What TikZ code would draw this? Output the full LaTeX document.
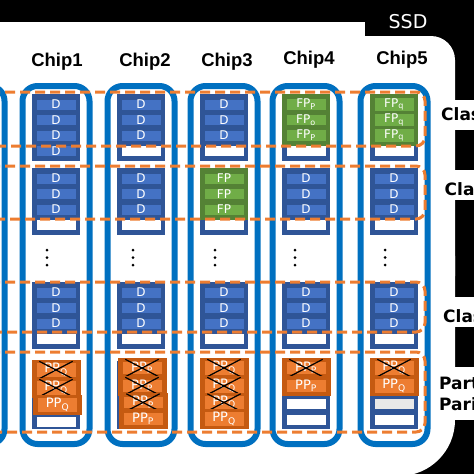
\documentclass[tikz,border=0pt]{standalone}
\usepackage{fontspec}
\setmainfont{DejaVu Sans}
\newfontfamily\chipfont{Liberation Sans}
\definecolor{chipblue}{RGB}{0,112,192}
\definecolor{blkblue}{RGB}{47,85,151}
\definecolor{rowblue}{RGB}{68,114,196}
\definecolor{fpdark}{RGB}{84,130,53}
\definecolor{fplight}{RGB}{112,173,71}
\definecolor{ppdark}{RGB}{197,90,17}
\definecolor{pplight}{RGB}{237,125,49}
\definecolor{dashorange}{RGB}{237,125,49}
\definecolor{rowgray}{RGB}{232,232,232}
\begin{document}
\begin{tikzpicture}[x=1pt, y=-1pt]
    % Define styles
    \tikzset{
        chip/.style={draw=chipblue, line width=6pt, rounded corners=15pt},
        blk/.style={fill=blkblue, minimum width=48pt, minimum height=67pt, inner sep=0pt},
        fpblk/.style={fill=fpdark, minimum width=48pt, minimum height=52pt, inner sep=0pt},
        cell/.style={minimum width=39pt, minimum height=10pt, inner sep=0pt,
            text=white, font=\fontsize{12}{12}\selectfont},
        drow/.style={cell, fill=rowblue},
        erow/.style={cell, fill=white},
        grayrow/.style={cell, fill=rowgray},
        fprow/.style={cell, fill=fplight},
        page/.style={fill=ppdark, minimum width=49pt, minimum height=20pt, inner sep=0pt},
        pprow/.style={cell, fill=pplight, minimum height=11pt, font=\fontsize{13}{13}\selectfont},
        cross/.style={black, line width=1.2pt},
        dot/.style={circle, fill=black, inner sep=0pt, minimum size=3pt},
        class/.style={draw=dashorange, line width=3pt, dash pattern=on 10pt off 5pt,
            rounded corners=9pt},
        side/.style={font=\bfseries\fontsize{17}{17}\selectfont, anchor=base west, inner sep=0pt}
    }

    % Frame
    \useasboundingbox (0,0) rectangle (474,474);
    \fill[black] (0,0) rectangle (474,474);
    \fill[white] (-5,22) rectangle (365,40);
    \fill[white, rounded corners=24pt] (-60,36) rectangle (455,300);
    \fill[white, rounded corners=56pt] (-60,200) rectangle (455,476);
    \foreach \ya/\yb in {100/130, 170/200, 297/327, 367/420}
        \fill[white] (438,\ya) rectangle (480,\yb);

    % SSD tab
    \node[text=white, font=\fontsize{19}{19}\selectfont, anchor=base] (ssd) at (408,28) {SSD};

    % Chips
    \foreach \c/\cx in {0/-29, 1/56, 2/141, 3/224, 4/306, 5/394}
        \draw[chip] (\cx-33.5,86) rectangle (\cx+33.5,444);
    \foreach \c/\cx/\ty in {1/57/66, 2/145/66, 3/227/66, 4/309/64.5, 5/402/64.5}
        \node[font=\chipfont\bfseries\fontsize{18.5}{18.5}\selectfont, anchor=base] (t\c) at (\cx,\ty) {Chip\c};

    % First class stripe
    \foreach \c/\cx in {1/56, 2/141, 3/224, 4/306, 5/394}
        \node[blk] (a\c) at (\cx,127.5) {};
    \foreach \c/\cx in {2/141, 3/224, 4/306, 5/394}
        \node[erow] (a\c r4) at (\cx,151) {};
    \foreach \c/\cx in {1/56, 2/141, 3/224}
        \foreach \r/\ry in {1/104.5, 2/120, 3/135.5}
            \node[drow] (a\c r\r) at (\cx,\ry) {D};
    \node[drow] (a1r4) at (56,151) {D};
    \node[fpblk] (a4g) at (306,120) {};
    \node[fprow] (a4r1) at (306,104.5) {FP\textsubscript{P}};
    \node[fprow] (a4r2) at (306,120) {FP\textsubscript{o}};
    \node[fprow] (a4r3) at (306,135.5) {FP\textsubscript{P}};
    \node[fpblk] (a5g) at (394,120) {};
    \foreach \r/\ry in {1/104.5, 2/120, 3/135.5}
        \node[fprow] (a5r\r) at (394,\ry) {FP\textsubscript{q}};

    % Second class stripe
    \foreach \c/\cx in {1/56, 2/141, 3/224, 4/306, 5/394}{
        \node[blk] (b\c) at (\cx,201.5) {};
        \node[erow] (b\c r4) at (\cx,225) {};
    }
    \foreach \c/\cx in {1/56, 2/141, 4/306, 5/394}
        \foreach \r/\ry in {1/178.5, 2/194, 3/209.5}
            \node[drow] (b\c r\r) at (\cx,\ry) {D};
    \node[fpblk] (b3g) at (224,194) {};
    \foreach \r/\ry in {1/178.5, 2/194, 3/209.5}
        \node[fprow] (b3r\r) at (224,\ry) {FP};

    % Dots
    \foreach \c/\cx in {1/47, 2/133, 3/215, 4/295, 5/385}
        \foreach \k/\dy in {1/250, 2/257.5, 3/265}
            \node[dot] (v\c\k) at (\cx,\dy) {};

    % Third class stripe
    \foreach \c/\cx in {1/56, 2/141, 3/224, 4/306, 5/394}{
        \node[blk] (c\c) at (\cx,315.5) {};
        \node[erow] (c\c r4) at (\cx,339) {};
        \foreach \r/\ry in {1/292.5, 2/308, 3/323.5}
            \node[drow] (c\c r\r) at (\cx,\ry) {D};
    }

    % Partial parity stripe
    \foreach \c/\cx in {1/56, 2/141, 3/224, 4/306, 5/394}
        \node[blk, minimum height=68pt] (d\c) at (\cx,395) {};
    \node[erow] (d1r4) at (56,421.5) {};
    \node[erow] (d4r3) at (306,403.5) {};
    \node[erow] (d4r4) at (306,419.5) {};
    \node[grayrow] (d5r3) at (394,403.5) {};
    \node[erow] (d5r4) at (394,419.5) {};
    % crossed out pages
    \foreach \c/\k/\px/\py/\s in {1/1/56/370/Q, 1/2/56/388/Q,
            2/1/142/368/P, 2/2/142/386/P, 2/3/143/402.5/P,
            3/1/224/368/Q, 3/2/224/386/Q, 3/3/224/402.5/Q,
            4/1/306/368/P, 5/1/394/368/Q}{
        \node[page] (p\c\k) at (\px,\py) {};
        \node[pprow] (q\c\k) at (\px,\py) {PP\textsubscript{\s}};
        \draw[cross] ([shift={(8,1.5)}]p\c\k.north west) -- ([shift={(-8,-1.5)}]p\c\k.south east);
        \draw[cross] ([shift={(8,-1.5)}]p\c\k.south west) -- ([shift={(-8,1.5)}]p\c\k.north east);
    }
    % valid pages
    \foreach \c/\k/\px/\py/\s in {1/3/57.5/405/Q, 2/4/143/419/P, 3/4/224/419/Q,
            4/2/306/386/P, 5/2/394/386/Q}{
        \node[page] (p\c\k) at (\px,\py) {};
        \node[pprow] (q\c\k) at (\px,\py) {PP\textsubscript{\s}};
    }

    % Class outlines
    \foreach \ya/\yb in {92/146, 166/219, 282/332, 352/432}
        \draw[class] (-10,\ya) -- (425,\ya) -- (425,\yb) -- (-10,\yb);

    % Side labels
    \node[side] (l1) at (441,120) {Clas};
    \node[side] (l2) at (444.5,195) {Cla};
    \node[side] (l3) at (443,322) {Clas};
    \node[side] (l4) at (439,389) {Part};
    \node[side] (l5) at (439,410) {Pari};
\end{tikzpicture}
\end{document}
